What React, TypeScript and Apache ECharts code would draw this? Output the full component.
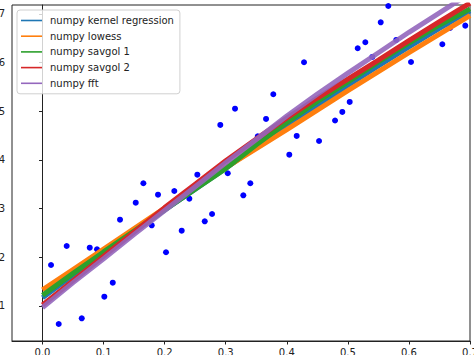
import React, { useEffect, useRef } from "react";
import * as echarts from "echarts";

const scatterX = [0.0139, 0.0265, 0.0396, 0.0642, 0.0773, 0.0892, 0.1012, 0.115, 0.1269, 0.1526, 0.1651, 0.1788, 0.1891, 0.2022, 0.2158, 0.2279, 0.2404, 0.2535, 0.2656, 0.2776, 0.2911, 0.3033, 0.3152, 0.3288, 0.3403, 0.3524, 0.366, 0.3779, 0.4041, 0.4162, 0.4282, 0.4528, 0.465, 0.479, 0.4909, 0.503, 0.5161, 0.5286, 0.54, 0.5538, 0.5662, 0.5793, 0.6034, 0.6547, 0.6673, 0.6923];
const scatterY = [1.842, 0.63, 2.232, 0.747, 2.197, 2.164, 1.191, 1.478, 2.772, 3.121, 3.52, 2.657, 3.285, 2.103, 3.361, 2.546, 3.203, 3.696, 2.739, 2.889, 4.717, 3.725, 5.051, 3.273, 3.52, 4.485, 4.84, 5.347, 4.107, 4.491, 6.004, 4.388, 5.271, 4.809, 4.984, 5.189, 6.292, 6.415, 6.113, 6.825, 7.16, 6.462, 6.01, 6.374, 6.708, 6.756];

const curveX = [0, 0.05, 0.1, 0.15, 0.2, 0.25, 0.3, 0.35, 0.4, 0.45, 0.5, 0.55, 0.6, 0.65, 0.7];
const kernelY = [1.17, 1.63, 2.08, 2.53, 2.97, 3.4, 3.83, 4.27, 4.7, 5.12, 5.53, 5.93, 6.32, 6.7, 7.06];
const lowessY = [1.33, 1.75, 2.17, 2.59, 3.01, 3.43, 3.84, 4.23, 4.62, 5.02, 5.42, 5.81, 6.2, 6.58, 6.96];
const savgol1Y = [1.22, 1.67, 2.11, 2.54, 2.97, 3.4, 3.82, 4.31, 4.77, 5.2, 5.6, 6.01, 6.4, 6.77, 7.1];
const savgol2Y = [1.02, 1.52, 2.02, 2.52, 3.02, 3.5, 3.98, 4.43, 4.86, 5.27, 5.66, 6.05, 6.45, 6.84, 7.22];
const fftY = [0.97, 1.48, 1.97, 2.47, 2.96, 3.45, 3.94, 4.42, 4.9, 5.35, 5.78, 6.2, 6.62, 7.02, 7.42];

const xTicks = [0, 0.1, 0.2, 0.3, 0.4, 0.5, 0.6, 0.7];
const yTicks = [1, 2, 3, 4, 5, 6, 7];

const lineNames = ["numpy kernel regression", "numpy lowess", "numpy savgol 1", "numpy savgol 2", "numpy fft"];
const lineColors = ["#1f77b4", "#ff7f0e", "#2ca02c", "#d62728", "#9467bd"];
const lineData = [kernelY, lowessY, savgol1Y, savgol2Y, fftY];

const FONT = "DejaVu Sans";

export default function App() {
  const ref = useRef<HTMLDivElement>(null);
  useEffect(() => {
    if (!ref.current) return;
    const chart = echarts.init(ref.current, undefined, { renderer: "svg" });
    const lines = lineNames.map((name, i) => ({
      name,
      type: "line",
      data: curveX.map((x, j) => [x, lineData[i][j]]),
      symbol: "none",
      smooth: false,
      lineStyle: { color: lineColors[i], width: 5, opacity: i === 4 ? 0.9 : 1 },
      itemStyle: { color: lineColors[i] },
      z: 3 + i,
    }));
    chart.setOption({
      animation: false,
      backgroundColor: "#ffffff",
      grid: {
        left: 12,
        right: 4,
        top: 5,
        bottom: 14,
        show: true,
        borderColor: "#222",
        borderWidth: 1,
        containLabel: false,
        outerBoundsMode: "none",
      },
      xAxis: {
        type: "value",
        min: -0.05,
        max: 0.7,
        axisLine: { show: true, lineStyle: { color: "#222" } },
        axisTick: { show: true, length: 3.5, lineStyle: { color: "#222" }, customValues: xTicks },
        axisLabel: {
          show: true,
          margin: 6,
          color: "#222",
          fontFamily: FONT,
          fontSize: 10,
          customValues: xTicks,
          formatter: (v: number) => v.toFixed(1),
        },
        splitLine: { show: false },
      },
      yAxis: {
        type: "value",
        min: 0.281,
        max: 7.18,
        axisLine: { show: true, lineStyle: { color: "#222" } },
        axisTick: { show: true, length: 3.5, lineStyle: { color: "#222" }, customValues: yTicks },
        axisLabel: {
          show: true,
          margin: 7,
          color: "#222",
          fontFamily: FONT,
          fontSize: 10,
          customValues: yTicks,
          formatter: (v: number) => String(Math.round(v)),
        },
        splitLine: { show: false },
      },
      legend: {
        data: lineNames,
        orient: "vertical",
        left: 17,
        top: 10,
        icon: "rect",
        itemWidth: 21,
        itemHeight: 1.6,
        itemGap: 3.7,
        padding: [4.5, 6, 4.5, 4],
        backgroundColor: "rgba(255,255,255,0.8)",
        borderColor: "#d0d0d0",
        borderWidth: 1,
        borderRadius: 3,
        textStyle: { fontFamily: FONT, fontSize: 10, color: "#222", lineHeight: 12, padding: [0, 0, 0, 3] },
      },
      series: [
        {
          name: "data",
          type: "scatter",
          data: scatterX.map((x, i) => [x, scatterY[i]]),
          symbolSize: 6,
          itemStyle: { color: "#0000ff", opacity: 1 },
          z: 2,
        },
        ...lines,
      ],
    });
    return () => chart.dispose();
  }, []);
  return <div ref={ref} style={{ position: "fixed", left: 0, top: 0, width: 474, height: 355 }} />;
}
